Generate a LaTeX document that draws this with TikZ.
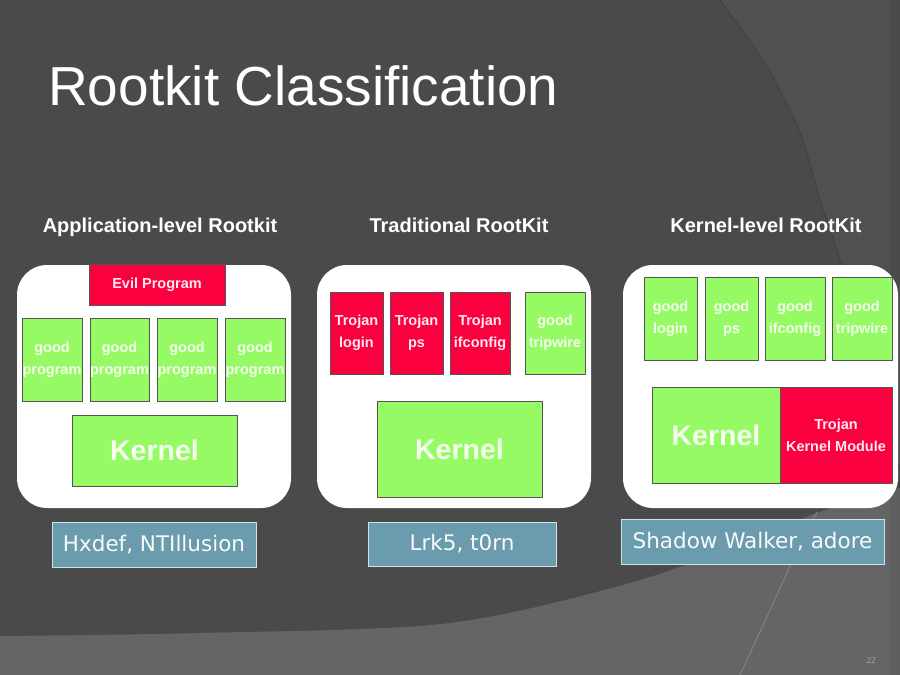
\documentclass[tikz,border=0pt]{standalone}
\usepackage{fontspec}
\setmainfont{Liberation Sans}
\newfontfamily\capfont{DejaVu Sans}
\newfontfamily\numfont{Liberation Serif}
\definecolor{bgdark}{HTML}{4A4A4A}
\definecolor{bgright}{HTML}{505050}
\definecolor{bglight}{HTML}{656565}
\definecolor{goodgreen}{HTML}{96FA64}
\definecolor{evilred}{HTML}{FA003F}
\definecolor{boxline}{HTML}{555555}
\definecolor{gtext}{HTML}{F4FFEE}
\definecolor{rtext}{HTML}{FFE8EE}
\definecolor{capfill}{HTML}{6A9CAD}
\definecolor{capline}{HTML}{D2E2EA}
\begin{document}
\begin{tikzpicture}[x=1pt,y=-1pt,
  panel/.style={fill=white, rounded corners=30pt},
  box/.style={draw=boxline, line width=0.8pt, inner sep=0pt, align=center,
    font=\bfseries\fontsize{14.5}{22}\selectfont},
  goodbox/.style={box, fill=goodgreen, text=gtext},
  evilbox/.style={box, fill=evilred, text=rtext},
  kernbox/.style={box, fill=goodgreen, text=gtext, font=\bfseries\fontsize{28.5}{30}\selectfont},
  heading/.style={text=white, font=\bfseries\fontsize{20}{22}\selectfont, anchor=base, inner sep=0pt},
  capbox/.style={draw=capline, line width=0.8pt, fill=capfill, text=white!95!capfill,
    font=\capfont\fontsize{21.5}{24}\selectfont, inner sep=0pt}
]
\useasboundingbox (0,0) rectangle (900,675);
% background
\fill[bgdark] (0,0) rectangle (900,675);
\fill[bgright] plot[smooth] coordinates {(720,0) (767,67) (800,133) (820,200) (840,260) (865,350) (885,420) (900,470)} -- (900,0) -- cycle;
\draw[line width=1.2pt, color=black!10!bgdark] plot[smooth] coordinates {(720,0) (767,67) (800,133) (820,200) (840,260) (865,350) (885,420) (900,470)};
\fill[bglight] plot[smooth] coordinates {(0,636) (200,633) (450,623) (650,577) (817,513) (900,488)} -- (900,675) -- (0,675) -- cycle;
\draw[line width=1pt, color=white!18!bglight] plot[smooth] coordinates {(740,675) (770,610) (800,545) (817,512)};
\fill[black, opacity=0.05] (890,0) rectangle (900,675);

% title
\node[anchor=base west, inner sep=0pt, text=white, font=\fontsize{55}{60}\selectfont] (title) at (48,105) {Rootkit Classification};

% headings
\node[heading] (h1) at (160,232) {Application-level Rootkit};
\node[heading] (h2) at (459,232) {Traditional RootKit};
\node[heading] (h3) at (766,232) {Kernel-level RootKit};

% panel 1
\fill[panel] (17,265) rectangle (291,508);
\node[evilbox, minimum width=136pt, minimum height=41pt] (evil) at (157,284.5) {Evil Program};
\node[goodbox, minimum width=60pt, minimum height=83pt] (g1) at (52,359.5) {good\\program};
\node[goodbox, minimum width=59pt, minimum height=83pt] (g2) at (119.5,359.5) {good\\program};
\node[goodbox, minimum width=60pt, minimum height=83pt] (g3) at (187,359.5) {good\\program};
\node[goodbox, minimum width=60pt, minimum height=83pt] (g4) at (255,359.5) {good\\program};
\node[kernbox, minimum width=165pt, minimum height=71pt] (k1) at (154.5,450.5) {Kernel};

% panel 2
\fill[panel] (317,265) rectangle (591,508);
\node[evilbox, minimum width=53pt, minimum height=82pt] (t1) at (356.5,333) {Trojan\\login};
\node[evilbox, minimum width=53pt, minimum height=82pt] (t2) at (416.5,333) {Trojan\\ps};
\node[evilbox, minimum width=60pt, minimum height=82pt] (t3) at (480,333) {Trojan\\ifconfig};
\node[goodbox, minimum width=60pt, minimum height=82pt] (tw) at (555,333) {good\\tripwire};
\node[kernbox, minimum width=165pt, minimum height=96pt] (k2) at (459.5,449) {Kernel};

% panel 3
\fill[panel] (623,265) rectangle (898,508);
\node[goodbox, minimum width=53pt, minimum height=83pt] (p1) at (670.5,318.5) {good\\login};
\node[goodbox, minimum width=53pt, minimum height=83pt] (p2) at (731.5,318.5) {good\\ps};
\node[goodbox, minimum width=60pt, minimum height=83pt] (p3) at (795,318.5) {good\\ifconfig};
\node[goodbox, minimum width=60pt, minimum height=83pt] (p4) at (862,318.5) {good\\tripwire};
\node[kernbox, minimum width=128pt, minimum height=96pt] (k3) at (716,435) {Kernel};
\node[evilbox, minimum width=112pt, minimum height=96pt] (tkm) at (836,435) {Trojan\\Kernel Module};

% captions
\node[capbox, minimum width=204pt, minimum height=45pt] (c1) at (154,544.5) {Hxdef, NTIllusion};
\node[capbox, minimum width=188pt, minimum height=44pt] (c2) at (462,544) {Lrk5, t0rn};
\node[capbox, minimum width=263pt, minimum height=45pt] (c3) at (752.5,541.5) {Shadow Walker, adore};

% page number
\node[text=white!55!bgdark, font=\numfont\fontsize{9}{10}\selectfont, inner sep=0pt] (pg) at (871,661) {22};
\end{tikzpicture}
\end{document}
